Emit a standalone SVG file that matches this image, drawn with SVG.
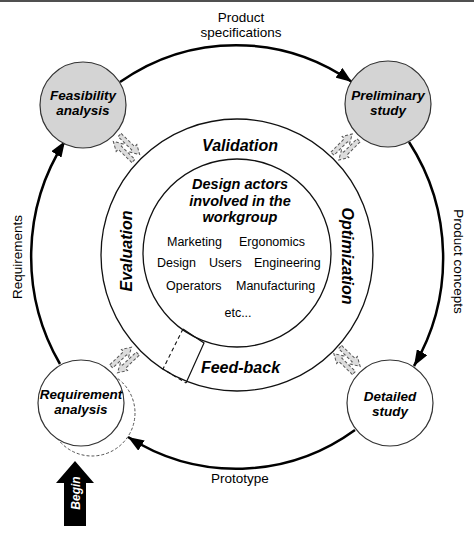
<svg xmlns="http://www.w3.org/2000/svg" xmlns:xlink="http://www.w3.org/1999/xlink" width="474" height="535" viewBox="0 0 474 535">
<style>
text{font-family:"Liberation Sans",Arial,sans-serif;fill:#000}
.bi{font-weight:bold;font-style:italic}
.lbl{font-size:13.5px}
.nd{font-size:13.5px;font-weight:bold;font-style:italic;text-anchor:middle}
.big{font-size:16px;font-weight:bold;font-style:italic;text-anchor:middle}
.act{font-size:12.5px}
.node{stroke:#333;stroke-width:1.2}
.ring{fill:none;stroke:#111;stroke-width:1.3}
.flow{fill:none;stroke:#000;stroke-width:2.5;marker-end:url(#ah)}
.dsh{fill:#dcdcdc;stroke:#555;stroke-width:1;stroke-dasharray:3 2}
</style>
<defs>
<marker id="ah" markerUnits="userSpaceOnUse" markerWidth="17" markerHeight="12" refX="16" refY="6" orient="auto" viewBox="0 0 17 12"><path d="M0,0 L16,6 L0,12 z" fill="#000"/></marker>
<g id="dbl">
<polygon class="dsh" points="-14,-6.7 5,-6.7 5,-9.7 14,-4.5 5,0.7 5,-2.3 -14,-2.3"/>
<polygon class="dsh" points="14,6.7 -5,6.7 -5,9.7 -14,4.5 -5,-0.7 -5,2.3 14,2.3"/>
</g>
</defs>
<rect x="0" y="0" width="474" height="2" fill="#505050"/>

<g id="center">
<circle class="ring" cx="237" cy="255" r="136"/>
<circle class="ring" cx="237" cy="253" r="94"/>
<polyline points="183,329 204,343 186,383" fill="none" stroke="#111" stroke-width="1.2"/>
<polyline points="183,329 163,369 186,383" fill="none" stroke="#111" stroke-width="1.1" stroke-dasharray="4 3"/>
<text class="big" x="240" y="151">Validation</text>
<text class="big" x="240.5" y="373">Feed-back</text>
<text class="big" transform="translate(132,251) rotate(-90)">Evaluation</text>
<text class="big" transform="translate(341.5,256) rotate(90)">Optimization</text>
<text class="bi" font-size="14.5" text-anchor="middle" x="240" y="189">Design actors</text>
<text class="bi" font-size="14.5" text-anchor="middle" x="240" y="205.5">involved in the</text>
<text class="bi" font-size="14.5" text-anchor="middle" x="240" y="222">workgroup</text>
<text class="act" x="167" y="246">Marketing</text>
<text class="act" x="239" y="246">Ergonomics</text>
<text class="act" x="157" y="267">Design</text>
<text class="act" x="209" y="267">Users</text>
<text class="act" x="254" y="267">Engineering</text>
<text class="act" x="166" y="290">Operators</text>
<text class="act" x="236" y="290">Manufacturing</text>
<text class="act" x="238" y="317" text-anchor="middle">etc...</text>
</g>

<g id="connectors">
<path class="flow" d="M120,82 A205,210 0 0 1 352,82"/>
<path class="flow" d="M409,142 A205,210 0 0 1 414,366"/>
<path class="flow" d="M355,430 A205,210 0 0 1 128,437"/>
<path class="flow" d="M60,364 A205,210 0 0 1 65,141"/>
<use xlink:href="#dbl" href="#dbl" transform="translate(126.5,148) rotate(44.2)"/>
<use xlink:href="#dbl" href="#dbl" transform="translate(345.5,147) rotate(135)"/>
<use xlink:href="#dbl" href="#dbl" transform="translate(124.5,360) rotate(-43.5)"/>
<use xlink:href="#dbl" href="#dbl" transform="translate(347,360) rotate(-136)"/>
<text class="lbl" text-anchor="middle" x="241" y="22">Product</text>
<text class="lbl" text-anchor="middle" x="241" y="37">specifications</text>
<text class="lbl" text-anchor="middle" transform="translate(454,261.5) rotate(90)">Product concepts</text>
<text class="lbl" text-anchor="middle" x="240" y="483">Prototype</text>
<text class="lbl" text-anchor="middle" transform="translate(22,257) rotate(-90)">Requirements</text>
</g>

<g id="feasibility">
<circle class="node" cx="83" cy="105" r="43" fill="#d4d4d4"/>
<text class="nd" x="83" y="100">Feasibility</text>
<text class="nd" x="83" y="115">analysis</text>
</g>
<g id="preliminary">
<circle class="node" cx="388" cy="104" r="43" fill="#d4d4d4"/>
<text class="nd" x="388" y="100">Preliminary</text>
<text class="nd" x="388" y="115">study</text>
</g>
<g id="requirement">
<circle cx="92" cy="413" r="43" fill="none" stroke="#555" stroke-width="1" stroke-dasharray="3 2"/>
<circle class="node" cx="81" cy="403" r="43" fill="#fff"/>
<text class="nd" x="81" y="399">Requirement</text>
<text class="nd" x="81" y="414">analysis</text>
</g>
<g id="detailed">
<circle class="node" cx="390" cy="403" r="43" fill="#fff"/>
<text class="nd" x="390" y="401">Detailed</text>
<text class="nd" x="390" y="416">study</text>
</g>
<g id="begin">
<polygon points="64,526 64,483 56,483 75,461 94,483 86,483 86,526" fill="#000"/>
<text class="bi" font-size="12" text-anchor="middle" fill="#fff" style="fill:#fff" transform="translate(79.5,493) rotate(-90)">Begin</text>
</g>
</svg>
